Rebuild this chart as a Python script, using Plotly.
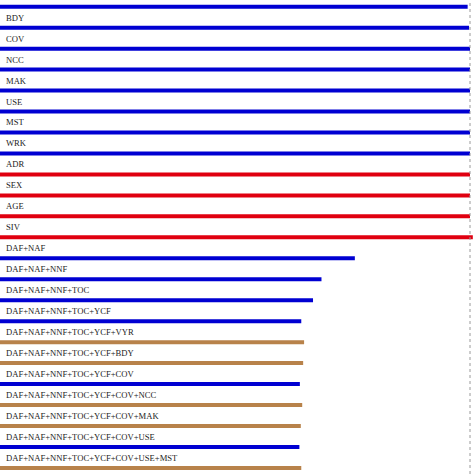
import plotly.graph_objects as go

# Feature-selection steps, top to bottom (the first label lies above the crop)
labels = [
    "VYR", "BDY", "COV", "NCC", "MAK", "USE", "MST", "WRK",
    "ADR", "SEX", "AGE", "SIV",
    "DAF+NAF",
    "DAF+NAF+NNF",
    "DAF+NAF+NNF+TOC",
    "DAF+NAF+NNF+TOC+YCF",
    "DAF+NAF+NNF+TOC+YCF+VYR",
    "DAF+NAF+NNF+TOC+YCF+BDY",
    "DAF+NAF+NNF+TOC+YCF+COV",
    "DAF+NAF+NNF+TOC+YCF+COV+NCC",
    "DAF+NAF+NNF+TOC+YCF+COV+MAK",
    "DAF+NAF+NNF+TOC+YCF+COV+USE",
    "DAF+NAF+NNF+TOC+YCF+COV+USE+MST",
]
scores = [
    0.995, 0.998, 1.0, 1.0, 1.0, 1.0, 1.0, 1.0,
    1.0, 1.0, 1.0, 1.006,
    0.755, 0.684, 0.666, 0.641,
    0.647, 0.645, 0.638, 0.643, 0.640, 0.637, 0.641,
]
status = [
    "kept", "kept", "kept", "kept", "kept", "kept", "kept", "kept",
    "dropped", "dropped", "dropped", "dropped",
    "kept", "kept", "kept", "kept",
    "rejected", "rejected", "kept", "rejected", "rejected", "kept", "rejected",
]
baseline = 1.0

COLORS = {"kept": "#0000d2", "dropped": "#e00010", "rejected": "#b8824a"}

fig = go.Figure(go.Bar(
    x=scores,
    y=labels,
    orientation="h",
    width=0.19,
    marker=dict(color=[COLORS[s] for s in status], line=dict(width=0)),
    hoverinfo="x+y",
))

# step labels sit just above each bar, left aligned
# (skip the top one: in the original it is cut off by the crop)
for lab in labels[1:]:
    fig.add_annotation(
        x=0, y=lab, xref="x", yref="y", text=lab, showarrow=False,
        xanchor="left", yanchor="middle", xshift=4, yshift=10,
        font=dict(family="Liberation Serif, Times New Roman, serif", size=8.6, color="#222"),
    )

fig.add_shape(
    type="line", x0=baseline, x1=baseline, y0=0, y1=1, xref="x", yref="paper",
    line=dict(color="#9a9a9a", width=1, dash="3px,3px"),
)

fig.update_layout(
    width=474, height=474,
    margin=dict(l=0, r=0, t=0, b=0),
    paper_bgcolor="white", plot_bgcolor="white",
    showlegend=False,
    xaxis=dict(range=[0, 1.0085], visible=False, fixedrange=True),
    yaxis=dict(range=[22.29, -0.32], visible=False, fixedrange=True),
)

# drop the default page margin so the figure sits flush in the window
fig.write_html("out.html", config={"displayModeBar": False},
               post_script="document.body.style.margin='0';")
